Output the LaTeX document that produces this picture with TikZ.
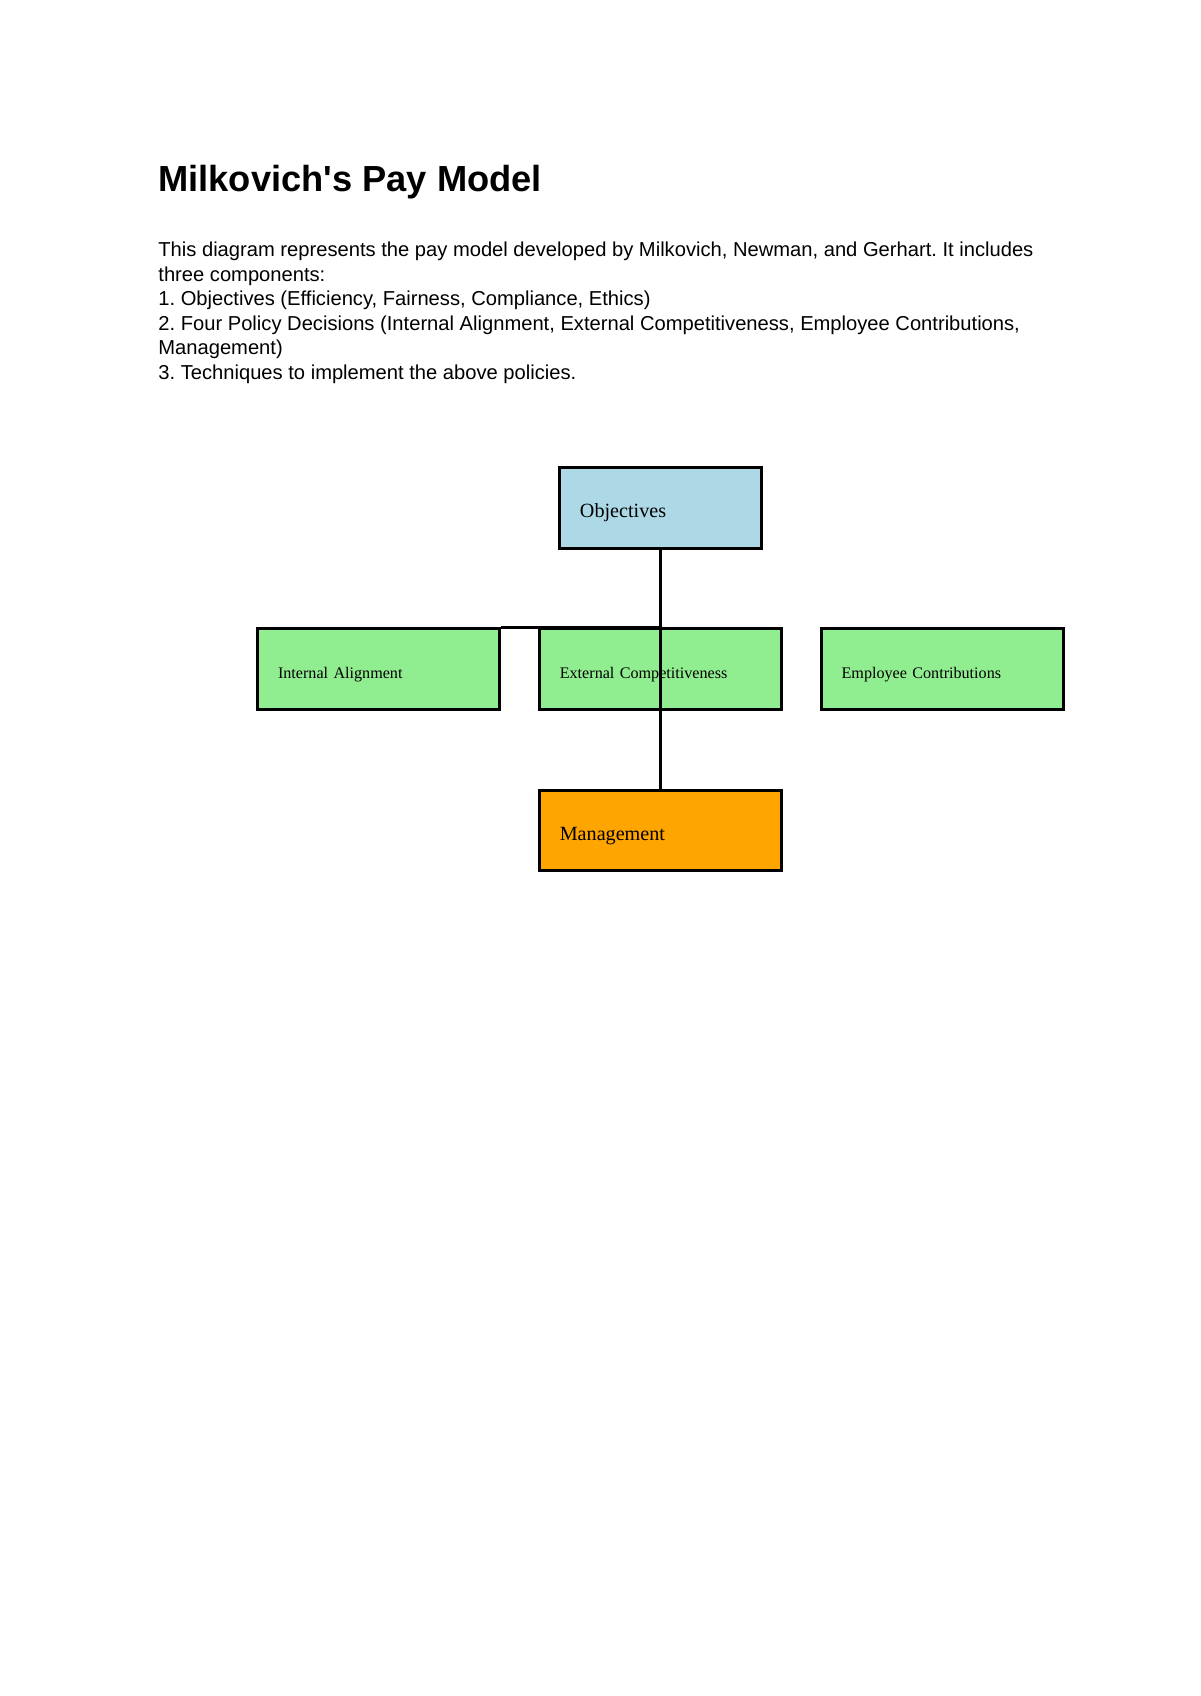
\documentclass[tikz,border=0pt]{standalone}
\usepackage{fontspec}
\setmainfont{Liberation Serif}
\newfontfamily\headfont{Liberation Sans}
\usepackage{tikz}
\usetikzlibrary{positioning}

\definecolor{objblue}{HTML}{ADD8E6}
\definecolor{policygreen}{HTML}{90EE90}
\definecolor{mgmtorange}{HTML}{FFA500}

\begin{document}
\frenchspacing
\begin{tikzpicture}
[ x=0.4961pt, y=-0.4961pt,
		node distance=38.5pt and 18.3pt,
		box/.style={rectangle,draw,line width=1.5pt,minimum height=40pt,inner xsep=10pt,inner ysep=0pt,align=left,text height=9.5pt,text depth=0pt},
		objective/.style={box,fill=objblue,text width=80pt,font=\fontsize{10}{12}\selectfont},
		policy/.style={box,fill=policygreen,text width=100pt,font=\fontsize{8}{9.6}\selectfont},
		manage/.style={box,fill=mgmtorange,text width=100pt,font=\fontsize{10}{12}\selectfont},
		link/.style={line width=1.5pt}]

	\useasboundingbox (0,0) rectangle (1200,1696);

	% heading and description
	\node[anchor=base west,inner sep=0pt,font=\headfont\bfseries\fontsize{18}{21.6}\selectfont] (title) at (158,192) {Milkovich's Pay Model};
	\node[anchor=north west,inner sep=0pt,align=left,font=\headfont\fontsize{10}{12.2}\selectfont] (description) at (158,241.5)
		{This diagram represents the pay model developed by Milkovich, Newman, and Gerhart. It includes\\
		three components:\\
		1. Objectives (Efficiency, Fairness, Compliance, Ethics)\\
		2. Four Policy Decisions (Internal Alignment, External Competitiveness, Employee Contributions,\\
		Management)\\
		3. Techniques to implement the above policies.};

	% model
	\node[objective] (objectives) at (660.6,508) {Objectives};
	\node[policy] (external competitiveness) [below=of objectives] {External Competitiveness};
	\node[policy] (internal alignment) [left=of external competitiveness] {Internal Alignment};
	\node[policy] (employee contributions) [right=of external competitiveness] {Employee Contributions};
	\node[manage] (management) [below=of external competitiveness] {Management};

	\draw[link] (objectives.south) |- (internal alignment.north east);
	\draw[link] (objectives.south) -- (management.north);
\end{tikzpicture}
\end{document}
